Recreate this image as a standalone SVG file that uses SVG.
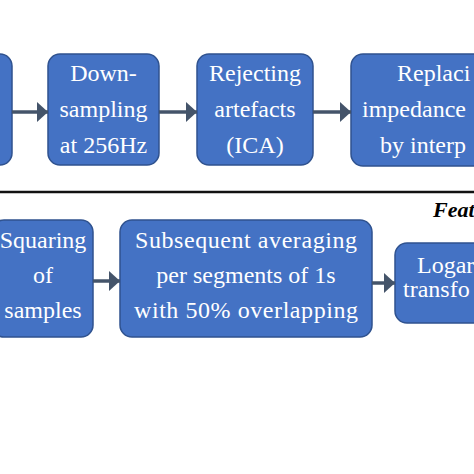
<svg xmlns="http://www.w3.org/2000/svg" width="474" height="474" viewBox="0 0 474 474">
  <defs>
    <style>
      .box { fill: #4472C4; stroke: #2F528F; stroke-width: 1.5; }
      .t { font-family: "Liberation Serif", "DejaVu Serif", serif; font-size: 24px; fill: #FFFFFF; }
      .c { text-anchor: middle; }
      .conn { stroke: #44546A; stroke-width: 3.5; fill: none; }
      .title { font-family: "Liberation Serif", "DejaVu Serif", serif; font-size: 22px; font-weight: bold; font-style: italic; fill: #000000; }
    </style>
    <marker id="arr" markerUnits="userSpaceOnUse" markerWidth="12" markerHeight="22" refX="11" refY="11" orient="auto">
      <path d="M0,1 L11,11 L0,21 Z" fill="#44546A"/>
    </marker>
  </defs>
  <rect width="474" height="474" fill="#FFFFFF"/>

  <line x1="0" y1="192" x2="474" y2="192" stroke="#111111" stroke-width="2.5"/>
  <text class="title" x="433" y="217">Feat</text>

  <g id="n-top1">
    <rect class="box" x="-100" y="54" width="112" height="111" rx="12"/>
  </g>
  <g id="n-downsampling">
    <rect class="box" x="48" y="54" width="111" height="111" rx="12"/>
    <text class="t c" x="103.5" y="81">Down-</text>
    <text class="t c" x="103.5" y="117">sampling</text>
    <text class="t c" x="103.5" y="153">at 256Hz</text>
  </g>
  <g id="n-rejecting">
    <rect class="box" x="197" y="54" width="116" height="111" rx="12"/>
    <text class="t c" x="255" y="81">Rejecting</text>
    <text class="t c" x="255" y="117">artefacts</text>
    <text class="t c" x="255" y="153">(ICA)</text>
  </g>
  <g id="n-replacing">
    <rect class="box" x="351" y="54" width="140" height="112" rx="12"/>
    <text class="t" x="397" y="81">Replaci</text>
    <text class="t" x="362" y="117">impedance</text>
    <text class="t" x="380" y="153">by interp</text>
  </g>

  <g id="n-squaring">
    <rect class="box" x="-8" y="220" width="101" height="117" rx="12"/>
    <text class="t c" x="43" y="248">Squaring</text>
    <text class="t c" x="43" y="283">of</text>
    <text class="t c" x="43" y="318">samples</text>
  </g>
  <g id="n-averaging">
    <rect class="box" x="120" y="220" width="252" height="117" rx="12"/>
    <text class="t c" x="246" y="248" textLength="222">Subsequent averaging</text>
    <text class="t c" x="246" y="283">per segments of 1s</text>
    <text class="t c" x="246" y="318" textLength="224">with 50% overlapping</text>
  </g>
  <g id="n-log">
    <rect class="box" x="395" y="243" width="100" height="80" rx="12"/>
    <text class="t" x="417" y="273">Logar</text>
    <text class="t" x="403" y="297">transfo</text>
  </g>

  <g id="connectors">
    <line class="conn" x1="12" y1="112" x2="48" y2="112" marker-end="url(#arr)"/>
    <line class="conn" x1="159" y1="112" x2="197" y2="112" marker-end="url(#arr)"/>
    <line class="conn" x1="313" y1="112" x2="351" y2="112" marker-end="url(#arr)"/>
    <line class="conn" x1="93" y1="281" x2="120" y2="281" marker-end="url(#arr)"/>
    <line class="conn" x1="372" y1="283" x2="395" y2="283" marker-end="url(#arr)"/>
  </g>
</svg>
